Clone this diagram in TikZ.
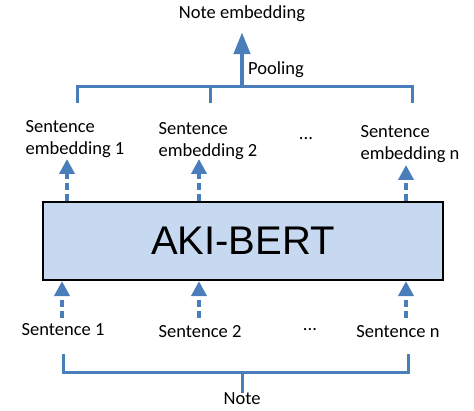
\documentclass[tikz,border=0pt]{standalone}
\usepackage{fontspec}
\setmainfont{Carlito}
\newfontfamily\arialfont{Liberation Sans}
\usetikzlibrary{arrows.meta}
\definecolor{lineblue}{HTML}{4A7EBB}
\definecolor{boxblue}{HTML}{C6D9F1}

\begin{document}
\begin{tikzpicture}[x=1pt,y=1pt,
    txt/.style={font=\fontsize{18.5}{22}\selectfont, inner sep=0pt, align=left},
    bracket/.style={draw=lineblue, line width=3pt},
    dasharrow/.style={draw=lineblue, line width=4pt, dash pattern=on 7pt off 4pt,
        -{Triangle[width=15pt,length=15pt]}},
    poolarrow/.style={draw=lineblue, line width=4.5pt, -{Triangle[width=16pt,length=22pt]}}]
    \useasboundingbox (0,0) rectangle (474,410);

    \begin{scope}[every node/.style={txt}]
        \node (noteemb) at (242,396) {Note embedding};
        \node[anchor=west] (pool) at (248,340) {Pooling};
        \node (se1) at (75,271) {Sentence\\embedding 1};
        \node (se2) at (208,269) {Sentence\\embedding 2};
        \node (sedots) at (306,271) {...};
        \node (sen) at (410,266) {Sentence\\embedding n};
        \node (s1) at (63,80) {Sentence 1};
        \node (s2) at (200,78) {Sentence 2};
        \node (sdots) at (310,80) {...};
        \node (sn) at (398,78) {Sentence n};
        \node (note) at (242,11) {Note};
    \end{scope}

    \node[draw=black, line width=2.2pt, fill=boxblue, minimum width=400pt, minimum height=78pt,
        font=\arialfont\fontsize{40}{44}\selectfont] (bert) at (243,169) {AKI-BERT};

    % brackets
    \coordinate (p1) at (77,307);
    \coordinate (p2) at (210,307);
    \coordinate (p3) at (412,307);
    \coordinate (pj) at (242,323);
    \coordinate (n1) at (63,56);
    \coordinate (n3) at (408,56);
    \coordinate (nj) at (242,38);
    \draw[bracket] (p1) -- (p1 |- pj) -- (p3 |- pj) -- (p3);
    \draw[bracket] (p2) -- (p2 |- pj);
    \draw[bracket] (n1) -- (n1 |- nj) -- (n3 |- nj) -- (n3);
    \draw[bracket] (nj) -- (note.north);
    \draw[poolarrow] (pj) -- ([yshift=-10pt]noteemb.south);

    % arrows
    \coordinate (in1) at (62,92);
    \coordinate (in2) at (199,92);
    \coordinate (inn) at (406,92);
    \coordinate (out1) at (67,251);
    \coordinate (out2) at (199,251);
    \coordinate (outn) at (406,245);
    \begin{scope}
        \draw[dasharrow] (in1) -- (in1 |- bert.south);
        \draw[dasharrow] (in2) -- (in2 |- bert.south);
        \draw[dasharrow] (inn) -- (inn |- bert.south);
        \draw[dasharrow] (out1 |- bert.north) -- (out1);
        \draw[dasharrow] (out2 |- bert.north) -- (out2);
        \draw[dasharrow] (outn |- bert.north) -- (outn);
    \end{scope}
\end{tikzpicture}
\end{document}
